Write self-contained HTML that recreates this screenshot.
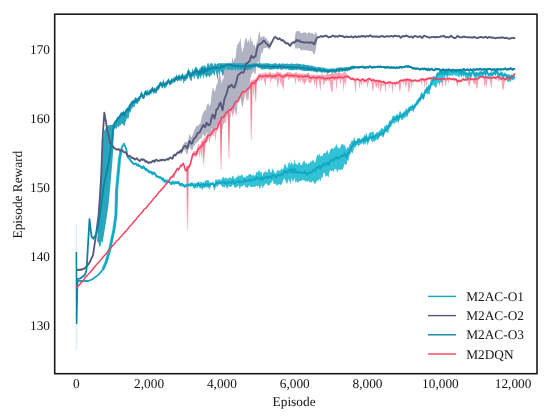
<!DOCTYPE html>
<html><head><meta charset="utf-8"><title>Episode Reward</title>
<style>html,body{margin:0;padding:0;background:#fff}svg{display:block}</style>
</head><body>
<svg width="550" height="416" viewBox="0 0 550 416">
<rect width="550" height="416" fill="#fff"/>
<g>
<polygon fill="#f9a3b3" points="160.5,190.1 161.5,188.8 162.5,187.6 163.5,186.7 164.5,185.3 165.5,183.6 166.5,182.2 167.5,181.3 168.5,179.8 169.5,178.6 170.5,176.5 171.5,175.5 172.5,175.3 173.5,173.4 174.5,171.7 175.5,170.6 176.5,168.2 177.5,167.3 178.5,168.4 179.5,166.7 180.5,164.3 181.5,164.3 182.5,162.4 183.5,161.9 184.5,165.6 185.5,168.8 186.5,168.4 187.5,166.7 188.5,164.0 189.5,164.5 190.5,160.6 191.5,156.1 192.5,152.4 193.5,151.1 194.5,151.2 195.5,151.0 196.5,150.9 197.5,147.3 198.5,143.1 199.5,145.2 200.5,143.9 201.5,139.9 202.5,140.7 203.5,138.6 204.5,137.8 205.5,137.0 206.5,135.4 207.5,131.5 208.5,130.1 209.5,131.8 210.5,129.8 211.5,129.7 212.5,127.7 213.5,124.6 214.5,123.8 215.5,123.2 216.5,123.0 217.5,121.3 218.5,118.2 219.5,112.1 220.5,114.7 221.5,111.7 222.5,107.0 223.5,111.6 224.5,108.6 225.5,108.2 226.5,104.8 227.5,105.9 228.5,102.9 229.5,103.5 230.5,104.4 231.5,104.0 232.5,102.6 233.5,100.6 234.5,99.6 235.5,97.9 236.5,96.9 237.5,98.0 238.5,96.4 239.5,93.7 240.5,91.8 241.5,90.4 242.5,87.7 243.5,88.9 244.5,88.8 245.5,88.1 246.5,87.3 247.5,83.8 248.5,84.7 249.5,85.1 250.5,80.9 251.5,80.6 252.5,80.0 253.5,79.6 254.5,79.6 255.5,78.6 256.5,77.8 257.5,76.2 258.5,74.4 259.5,73.5 260.5,73.0 261.5,74.5 262.5,73.4 263.5,72.9 264.5,73.6 265.5,71.2 266.5,73.5 267.5,73.4 268.5,73.6 269.5,71.0 270.5,72.6 271.5,74.0 272.5,73.6 273.5,73.4 274.5,73.7 275.5,73.0 276.5,72.3 277.5,71.0 278.5,72.4 279.5,72.2 280.5,72.5 281.5,73.8 282.5,74.4 283.5,74.3 284.5,73.2 285.5,73.6 286.5,72.6 287.5,71.8 288.5,72.3 289.5,72.6 290.5,72.0 291.5,72.9 292.5,73.6 293.5,73.5 294.5,72.7 295.5,72.7 296.5,71.8 297.5,73.9 298.5,73.4 299.5,73.2 300.5,73.7 301.5,74.3 302.5,73.0 303.5,74.5 304.5,74.1 305.5,74.2 306.5,73.7 307.5,72.7 308.5,72.8 309.5,73.9 310.5,75.9 311.5,74.3 312.5,75.1 313.5,74.2 314.5,75.3 315.5,75.2 316.5,74.2 317.5,75.3 318.5,74.5 319.5,75.2 320.5,75.2 321.5,74.4 322.5,73.5 323.5,75.4 324.5,75.2 325.5,75.0 326.5,74.2 327.5,72.2 328.5,74.7 329.5,73.9 330.5,73.9 331.5,72.7 332.5,72.5 333.5,73.5 334.5,74.3 335.5,72.7 336.5,72.0 337.5,73.2 338.5,72.2 339.5,72.2 340.5,73.1 341.5,73.8 342.5,73.4 343.5,72.2 344.5,72.2 345.5,71.7 346.5,73.7 347.5,75.0 348.5,75.2 349.5,76.5 350.5,77.1 351.5,77.7 352.5,77.3 353.5,77.6 354.5,78.3 355.5,78.8 356.5,78.0 357.5,77.6 358.5,78.5 359.5,79.0 360.5,79.2 361.5,78.8 362.5,77.9 363.5,78.1 364.5,79.3 365.5,79.7 366.5,79.0 367.5,78.2 368.5,78.1 369.5,77.0 370.5,78.1 371.5,79.2 372.5,78.6 373.5,78.3 374.5,79.2 375.5,80.0 376.5,79.5 377.5,79.4 378.5,79.8 379.5,79.8 380.5,80.0 381.5,80.7 382.5,80.9 383.5,80.3 384.5,81.2 385.5,82.5 386.5,81.7 387.5,81.5 388.5,81.3 389.5,81.2 390.5,80.9 391.5,81.9 392.5,82.0 393.5,82.0 394.5,81.9 395.5,81.9 396.5,80.7 397.5,81.8 398.5,81.5 399.5,80.0 400.5,79.2 401.5,79.2 402.5,79.2 403.5,79.1 404.5,78.3 405.5,78.2 406.5,78.9 407.5,77.3 408.5,78.7 409.5,78.6 410.5,78.5 411.5,79.7 412.5,79.8 413.5,79.6 414.5,79.1 415.5,78.9 416.5,79.7 417.5,79.5 418.5,79.5 419.5,79.2 420.5,78.3 421.5,78.0 422.5,78.1 423.5,77.7 424.5,78.7 425.5,78.1 426.5,78.1 427.5,77.5 428.5,77.3 429.5,76.8 430.5,77.2 431.5,76.7 432.5,76.8 433.5,77.0 434.5,77.8 435.5,77.2 436.5,77.2 437.5,77.8 438.5,77.8 439.5,78.0 440.5,78.1 441.5,77.7 442.5,77.5 443.5,77.9 444.5,77.8 445.5,77.8 446.5,77.6 447.5,77.1 448.5,77.7 449.5,77.0 450.5,77.6 451.5,77.9 452.5,77.9 453.5,77.5 454.5,78.7 455.5,77.7 456.5,78.1 457.5,80.6 458.5,79.5 459.5,79.2 460.5,79.8 461.5,79.4 462.5,78.3 463.5,77.6 464.5,78.5 465.5,78.3 466.5,78.1 467.5,78.5 468.5,77.3 469.5,76.8 470.5,78.0 471.5,77.5 472.5,78.1 473.5,77.9 474.5,78.0 475.5,78.7 476.5,77.3 477.5,77.6 478.5,77.5 479.5,76.0 480.5,74.5 481.5,75.0 482.5,75.5 483.5,75.5 484.5,76.2 485.5,76.0 486.5,75.8 487.5,75.9 488.5,76.7 489.5,77.0 490.5,76.8 491.5,75.8 492.5,76.3 493.5,75.8 494.5,76.6 495.5,77.0 496.5,76.0 497.5,75.7 498.5,75.7 499.5,76.0 500.5,76.5 501.5,77.7 502.5,76.9 503.5,76.3 504.5,77.6 505.5,78.5 506.5,76.9 507.5,76.5 508.5,76.0 509.5,77.8 510.5,77.5 511.5,75.7 512.5,74.9 513.5,74.3 514.5,72.6 514.5,78.3 513.5,76.8 512.5,77.3 511.5,78.1 510.5,80.1 509.5,80.3 508.5,78.8 507.5,78.9 506.5,79.9 505.5,80.9 504.5,83.0 503.5,89.8 502.5,90.1 501.5,80.5 500.5,79.3 499.5,80.6 498.5,81.7 497.5,78.2 496.5,80.1 495.5,79.4 494.5,78.9 493.5,78.7 492.5,79.0 491.5,89.1 490.5,83.7 489.5,79.4 488.5,79.2 487.5,78.8 486.5,88.9 485.5,82.5 484.5,88.1 483.5,78.2 482.5,78.1 481.5,78.2 480.5,77.7 479.5,78.5 478.5,79.9 477.5,87.6 476.5,88.9 475.5,83.0 474.5,84.8 473.5,83.2 472.5,80.4 471.5,80.5 470.5,82.0 469.5,87.4 468.5,84.3 467.5,80.9 466.5,80.9 465.5,81.1 464.5,81.1 463.5,80.4 462.5,80.9 461.5,82.1 460.5,82.5 459.5,82.0 458.5,82.2 457.5,87.0 456.5,83.2 455.5,80.5 454.5,81.1 453.5,80.1 452.5,80.5 451.5,80.7 450.5,80.1 449.5,79.6 448.5,84.1 447.5,80.0 446.5,81.6 445.5,87.6 444.5,80.3 443.5,80.7 442.5,88.6 441.5,83.1 440.5,80.7 439.5,86.6 438.5,80.5 437.5,82.5 436.5,80.2 435.5,80.4 434.5,85.4 433.5,79.4 432.5,79.2 431.5,79.6 430.5,81.1 429.5,79.7 428.5,79.7 427.5,80.0 426.5,86.6 425.5,80.7 424.5,88.3 423.5,81.0 422.5,80.4 421.5,85.8 420.5,81.2 419.5,81.7 418.5,82.0 417.5,82.2 416.5,82.0 415.5,81.7 414.5,81.6 413.5,82.1 412.5,82.5 411.5,89.3 410.5,81.2 409.5,91.3 408.5,92.3 407.5,80.6 406.5,84.9 405.5,87.8 404.5,81.4 403.5,84.8 402.5,81.6 401.5,81.9 400.5,89.7 399.5,91.7 398.5,83.9 397.5,84.2 396.5,84.2 395.5,87.2 394.5,84.4 393.5,84.5 392.5,94.0 391.5,84.3 390.5,83.6 389.5,88.3 388.5,84.0 387.5,84.0 386.5,84.4 385.5,93.2 384.5,83.7 383.5,86.8 382.5,83.4 381.5,88.8 380.5,93.2 379.5,82.5 378.5,90.6 377.5,84.2 376.5,88.2 375.5,85.2 374.5,81.9 373.5,89.2 372.5,91.5 371.5,81.9 370.5,80.8 369.5,79.8 368.5,83.4 367.5,88.1 366.5,83.1 365.5,82.3 364.5,82.0 363.5,84.1 362.5,80.4 361.5,86.2 360.5,81.8 359.5,89.6 358.5,80.9 357.5,80.3 356.5,81.0 355.5,93.5 354.5,83.4 353.5,80.3 352.5,79.9 351.5,80.5 350.5,80.0 349.5,79.1 348.5,78.5 347.5,78.0 346.5,78.4 345.5,86.7 344.5,80.9 343.5,91.9 342.5,79.8 341.5,79.7 340.5,85.0 339.5,79.3 338.5,79.2 337.5,80.0 336.5,91.3 335.5,79.6 334.5,80.5 333.5,80.1 332.5,91.7 331.5,92.3 330.5,86.7 329.5,80.9 328.5,80.8 327.5,80.4 326.5,80.9 325.5,81.1 324.5,83.2 323.5,86.0 322.5,79.6 321.5,80.0 320.5,90.9 319.5,85.4 318.5,79.4 317.5,79.9 316.5,91.0 315.5,80.7 314.5,85.9 313.5,79.3 312.5,79.7 311.5,81.8 310.5,83.1 309.5,83.2 308.5,81.9 307.5,78.2 306.5,81.3 305.5,82.8 304.5,84.4 303.5,83.2 302.5,81.3 301.5,79.0 300.5,82.6 299.5,80.0 298.5,82.6 297.5,78.6 296.5,78.0 295.5,85.1 294.5,78.0 293.5,78.6 292.5,78.2 291.5,77.6 290.5,78.2 289.5,78.3 288.5,80.4 287.5,77.0 286.5,77.2 285.5,78.3 284.5,78.2 283.5,90.6 282.5,87.3 281.5,84.0 280.5,82.9 279.5,77.6 278.5,83.5 277.5,88.2 276.5,77.8 275.5,81.1 274.5,78.7 273.5,78.5 272.5,79.0 271.5,78.9 270.5,83.5 269.5,77.7 268.5,78.5 267.5,78.7 266.5,78.2 265.5,87.1 264.5,82.4 263.5,78.7 262.5,78.8 261.5,80.9 260.5,78.5 259.5,81.5 258.5,79.5 257.5,81.2 256.5,83.4 255.5,84.3 254.5,85.5 253.5,97.7 252.5,85.3 251.5,85.7 250.5,88.1 249.5,90.3 248.5,90.7 247.5,100.1 246.5,100.7 245.5,93.8 244.5,94.4 243.5,94.5 242.5,98.5 241.5,101.1 240.5,98.2 239.5,99.8 238.5,102.4 237.5,103.9 236.5,115.0 235.5,114.7 234.5,106.4 233.5,108.9 232.5,118.1 231.5,111.5 230.5,112.8 229.5,112.5 228.5,124.0 227.5,114.8 226.5,117.2 225.5,123.4 224.5,122.2 223.5,125.2 222.5,119.9 221.5,127.7 220.5,128.0 219.5,124.7 218.5,126.7 217.5,130.9 216.5,131.6 215.5,142.1 214.5,132.1 213.5,136.6 212.5,134.7 211.5,136.4 210.5,137.4 209.5,144.1 208.5,138.3 207.5,141.4 206.5,142.5 205.5,144.9 204.5,156.6 203.5,145.9 202.5,147.9 201.5,159.3 200.5,150.3 199.5,157.8 198.5,151.2 197.5,155.2 196.5,156.7 195.5,156.9 194.5,156.1 193.5,156.3 192.5,157.7 191.5,161.5 190.5,165.5 189.5,168.6 188.5,168.8 187.5,170.4 186.5,172.1 185.5,172.1 184.5,168.6 183.5,165.1 182.5,165.8 181.5,167.2 180.5,167.0 179.5,169.3 178.5,170.9 177.5,169.9 176.5,170.9 175.5,173.6 174.5,174.3 173.5,175.7 172.5,177.9 171.5,178.1 170.5,178.8 169.5,180.7 168.5,182.2 167.5,183.2 166.5,184.2 165.5,185.4 164.5,186.8 163.5,188.3 162.5,189.2 161.5,190.1 160.5,191.2"/><defs><linearGradient id="sg" x1="0" y1="0" x2="0" y2="1"><stop offset="0" stop-color="#f6647e"/><stop offset="0.6" stop-color="#f88fa2"/><stop offset="1" stop-color="#fcd3da"/></linearGradient></defs><polygon fill="url(#sg)" points="172.9,174 175.1,174 174.6,178 173.4,178"/><polygon fill="url(#sg)" points="186.4,166 188.6,166 188.1,229 186.9,229"/><polygon fill="url(#sg)" points="202.5,142 204.7,142 204.2,165 203.0,165"/><polygon fill="url(#sg)" points="219.9,122 222.1,122 221.6,170 220.4,170"/><polygon fill="url(#sg)" points="227.8,112 230.0,112 229.5,159 228.3,159"/><polygon fill="url(#sg)" points="250.20000000000002,84 252.4,84 251.9,140 250.70000000000002,140"/><polygon fill="url(#sg)" points="254.5,80 256.7,80 256.2,102 255.0,102"/>
<polyline fill="none" stroke="#33c1d5" stroke-width="3.1" stroke-linejoin="round" points="102.9,269.5 106.5,261 109.9,248.5 113.9,229.5 115.9,215 116.60000000000001,190 118.5,170 119.5,159 121.4,149"/><polygon fill="#33c1d5" points="124.0,142.3 126.2,147.5 127.6,155.4 128.5,156.7 129.5,158.0 130.5,159.2 131.5,160.2 132.5,160.9 133.5,162.8 134.5,162.9 135.5,162.1 136.5,162.6 137.5,163.7 138.5,163.0 139.5,164.7 140.5,165.0 141.5,165.9 142.5,166.3 143.5,164.7 144.5,166.2 145.5,167.9 146.5,167.6 147.5,169.3 148.5,169.5 149.5,170.8 150.5,170.5 151.5,171.0 152.5,172.1 153.5,171.0 154.5,172.1 155.5,172.7 156.5,175.3 157.5,175.4 158.5,176.2 159.5,175.8 160.5,176.0 161.5,177.2 162.5,178.0 163.5,177.0 164.5,179.3 165.5,179.2 166.5,179.7 167.5,179.5 168.5,179.7 169.5,180.3 170.5,182.3 171.5,183.3 172.5,180.9 173.5,181.4 174.5,181.6 175.5,181.1 176.5,181.3 177.5,181.6 178.5,180.2 179.5,183.0 180.5,183.3 181.5,182.7 182.5,182.8 183.5,183.8 184.5,185.7 185.5,184.0 186.5,184.2 187.5,182.6 188.5,183.6 189.5,183.2 190.5,183.1 191.5,182.1 192.5,182.3 193.5,183.7 194.5,183.0 195.5,183.4 196.5,182.7 197.5,182.7 198.5,180.8 199.5,183.7 200.5,181.8 201.5,181.7 202.5,183.1 203.5,181.9 204.5,182.4 205.5,180.2 206.5,180.6 207.5,180.1 208.5,180.0 209.5,182.4 210.5,182.6 211.5,183.1 212.5,181.6 213.5,182.0 214.5,184.6 215.5,179.3 216.5,179.0 217.5,181.1 218.5,179.3 219.5,178.9 220.5,180.3 221.5,179.6 222.5,177.8 223.5,176.7 224.5,178.9 225.5,176.9 226.5,178.3 227.5,179.2 228.5,177.9 229.5,177.6 230.5,177.8 231.5,178.4 232.5,175.7 233.5,176.6 234.5,179.1 235.5,178.2 236.5,177.3 237.5,176.6 238.5,174.7 239.5,176.6 240.5,176.1 241.5,174.4 242.5,174.9 243.5,177.6 244.5,177.0 245.5,177.5 246.5,175.3 247.5,176.2 248.5,175.0 249.5,173.8 250.5,174.1 251.5,175.2 252.5,175.6 253.5,174.6 254.5,176.2 255.5,175.0 256.5,171.4 257.5,172.8 258.5,170.8 259.5,170.8 260.5,172.4 261.5,171.5 262.5,176.2 263.5,172.6 264.5,171.9 265.5,171.7 266.5,171.5 267.5,173.2 268.5,168.7 269.5,169.0 270.5,172.5 271.5,172.3 272.5,168.3 273.5,170.7 274.5,172.5 275.5,173.5 276.5,172.4 277.5,169.7 278.5,170.6 279.5,171.0 280.5,170.4 281.5,167.9 282.5,169.8 283.5,168.2 284.5,163.9 285.5,164.5 286.5,167.3 287.5,167.7 288.5,162.9 289.5,162.0 290.5,165.1 291.5,161.4 292.5,164.1 293.5,164.7 294.5,159.2 295.5,163.8 296.5,164.0 297.5,165.0 298.5,162.4 299.5,162.3 300.5,164.6 301.5,165.6 302.5,163.2 303.5,161.3 304.5,160.4 305.5,163.7 306.5,162.8 307.5,164.5 308.5,163.1 309.5,163.2 310.5,161.5 311.5,161.8 312.5,160.3 313.5,160.2 314.5,162.5 315.5,161.8 316.5,157.3 317.5,154.0 318.5,156.3 319.5,153.3 320.5,157.1 321.5,155.0 322.5,156.5 323.5,152.9 324.5,152.9 325.5,153.6 326.5,151.3 327.5,150.1 328.5,154.4 329.5,151.9 330.5,149.5 331.5,148.6 332.5,147.8 333.5,149.4 334.5,147.5 335.5,146.4 336.5,144.0 337.5,147.6 338.5,147.6 339.5,148.8 340.5,147.0 341.5,144.3 342.5,143.8 343.5,145.0 344.5,144.8 345.5,146.9 346.5,150.2 347.5,146.1 348.5,148.3 349.5,144.2 350.5,143.5 351.5,140.4 352.5,141.0 353.5,139.4 354.5,137.1 355.5,141.6 356.5,141.2 357.5,138.0 358.5,138.0 359.5,138.1 360.5,140.1 361.5,138.6 362.5,137.7 363.5,136.9 364.5,134.1 365.5,136.4 366.5,131.9 367.5,138.4 368.5,134.9 369.5,132.8 370.5,132.0 371.5,132.8 372.5,131.6 373.5,131.7 374.5,134.9 375.5,133.8 376.5,132.2 377.5,132.1 378.5,132.4 379.5,130.4 380.5,130.0 381.5,127.5 382.5,128.4 383.5,129.7 384.5,125.5 385.5,126.1 386.5,124.7 387.5,124.9 388.5,124.5 389.5,120.1 390.5,120.6 391.5,121.2 392.5,115.8 393.5,115.8 394.5,115.9 395.5,115.7 396.5,114.6 397.5,113.7 398.5,116.6 399.5,111.4 400.5,111.2 401.5,113.6 402.5,113.8 403.5,111.4 404.5,111.4 405.5,109.7 406.5,107.8 407.5,110.4 408.5,106.6 409.5,107.2 410.5,106.1 411.5,106.0 412.5,103.8 413.5,106.6 414.5,103.7 415.5,104.1 416.5,100.5 417.5,99.5 418.5,98.5 419.5,96.6 420.5,97.2 421.5,91.6 422.5,93.1 423.5,95.8 424.5,89.5 425.5,89.2 426.5,86.2 427.5,87.4 428.5,84.1 429.5,85.5 430.5,82.5 431.5,78.6 432.5,77.5 433.5,75.8 434.5,76.3 435.5,77.2 436.5,74.2 437.5,72.2 438.5,73.1 439.5,73.1 440.5,68.5 441.5,71.5 442.5,70.7 443.5,67.2 444.5,72.3 445.5,68.9 446.5,70.1 447.5,71.9 448.5,68.5 449.5,68.4 450.5,69.8 451.5,70.1 452.5,71.4 453.5,70.2 454.5,69.7 455.5,69.9 456.5,69.9 457.5,68.9 458.5,70.1 459.5,69.0 460.5,68.1 461.5,72.9 462.5,70.0 463.5,71.7 464.5,69.4 465.5,72.2 466.5,72.1 467.5,72.6 468.5,73.8 469.5,70.4 470.5,74.9 471.5,72.2 472.5,69.5 473.5,68.5 474.5,73.8 475.5,72.8 476.5,71.6 477.5,72.8 478.5,72.9 479.5,70.9 480.5,70.5 481.5,71.2 482.5,72.3 483.5,71.3 484.5,70.7 485.5,73.1 486.5,69.5 487.5,71.2 488.5,74.5 489.5,73.5 490.5,72.2 491.5,70.8 492.5,72.5 493.5,72.4 494.5,69.7 495.5,72.0 496.5,68.6 497.5,70.0 498.5,74.2 499.5,73.4 500.5,71.2 501.5,71.6 502.5,72.1 503.5,74.0 504.5,72.6 505.5,72.8 506.5,73.9 507.5,74.5 508.5,74.3 509.5,74.0 510.5,75.8 511.5,74.2 512.5,75.2 513.5,75.4 514.5,75.8 514.5,79.7 513.5,79.8 512.5,80.6 511.5,79.3 510.5,82.3 509.5,81.0 508.5,82.0 507.5,81.8 506.5,79.7 505.5,77.0 504.5,75.8 503.5,78.7 502.5,77.6 501.5,77.0 500.5,75.4 499.5,77.4 498.5,79.0 497.5,74.5 496.5,73.0 495.5,76.9 494.5,73.8 493.5,74.6 492.5,76.1 491.5,75.8 490.5,76.4 489.5,77.5 488.5,78.7 487.5,73.8 486.5,73.9 485.5,78.3 484.5,73.7 483.5,76.1 482.5,77.6 481.5,76.2 480.5,76.6 479.5,76.5 478.5,76.9 477.5,77.0 476.5,77.8 475.5,79.0 474.5,78.5 473.5,74.1 472.5,74.6 471.5,76.1 470.5,79.5 469.5,74.7 468.5,79.0 467.5,79.2 466.5,78.8 465.5,78.2 464.5,75.2 463.5,77.3 462.5,74.7 461.5,78.0 460.5,74.9 459.5,77.0 458.5,77.2 457.5,75.3 456.5,75.9 455.5,75.8 454.5,75.0 453.5,74.5 452.5,76.4 451.5,75.1 450.5,75.8 449.5,76.4 448.5,75.1 447.5,78.3 446.5,76.5 445.5,74.7 444.5,80.9 443.5,76.8 442.5,81.8 441.5,82.9 440.5,81.3 439.5,85.8 438.5,82.3 437.5,83.5 436.5,87.1 435.5,88.1 434.5,86.0 433.5,85.0 432.5,85.6 431.5,85.4 430.5,88.7 429.5,94.6 428.5,93.4 427.5,95.0 426.5,92.8 425.5,94.6 424.5,93.4 423.5,100.0 422.5,99.4 421.5,97.3 420.5,102.1 419.5,101.5 418.5,103.9 417.5,105.2 416.5,104.8 415.5,108.3 414.5,108.5 413.5,112.1 412.5,110.8 411.5,111.1 410.5,110.6 409.5,112.8 408.5,112.9 407.5,117.2 406.5,116.1 405.5,117.5 404.5,118.0 403.5,118.3 402.5,119.9 401.5,120.3 400.5,117.7 399.5,118.5 398.5,123.7 397.5,121.1 396.5,122.3 395.5,122.3 394.5,123.9 393.5,123.5 392.5,121.4 391.5,126.2 390.5,126.9 389.5,127.8 388.5,132.8 387.5,133.1 386.5,131.8 385.5,132.5 384.5,133.3 383.5,137.7 382.5,136.9 381.5,135.8 380.5,136.1 379.5,136.5 378.5,140.2 377.5,139.6 376.5,139.4 375.5,140.3 374.5,142.0 373.5,141.0 372.5,141.9 371.5,141.4 370.5,138.4 369.5,140.4 368.5,142.7 367.5,145.4 366.5,140.5 365.5,145.1 364.5,143.3 363.5,145.3 362.5,143.1 361.5,143.5 360.5,144.4 359.5,145.0 358.5,146.8 357.5,144.8 356.5,145.1 355.5,147.7 354.5,147.2 353.5,150.3 352.5,153.8 351.5,151.7 350.5,154.1 349.5,155.0 348.5,160.7 347.5,160.3 346.5,164.9 345.5,164.7 344.5,163.5 343.5,167.4 342.5,169.6 341.5,169.6 340.5,170.4 339.5,169.5 338.5,169.5 337.5,173.0 336.5,169.7 335.5,169.0 334.5,168.9 333.5,171.9 332.5,170.5 331.5,171.3 330.5,170.0 329.5,171.5 328.5,177.7 327.5,175.2 326.5,176.6 325.5,176.2 324.5,172.8 323.5,173.0 322.5,178.2 321.5,176.9 320.5,181.5 319.5,178.5 318.5,181.0 317.5,179.9 316.5,181.4 315.5,183.8 314.5,183.7 313.5,181.9 312.5,180.7 311.5,182.2 310.5,182.4 309.5,182.0 308.5,180.5 307.5,181.9 306.5,180.7 305.5,181.9 304.5,180.2 303.5,180.5 302.5,179.6 301.5,181.0 300.5,181.1 299.5,181.0 298.5,182.1 297.5,182.9 296.5,181.1 295.5,183.2 294.5,177.4 293.5,181.3 292.5,181.7 291.5,177.8 290.5,184.0 289.5,181.7 288.5,178.8 287.5,183.3 286.5,183.4 285.5,180.4 284.5,178.4 283.5,179.5 282.5,182.2 281.5,184.3 280.5,185.2 279.5,183.9 278.5,184.4 277.5,184.8 276.5,185.7 275.5,183.4 274.5,183.9 273.5,183.4 272.5,180.0 271.5,182.4 270.5,183.2 269.5,185.4 268.5,185.3 267.5,184.9 266.5,183.5 265.5,183.5 264.5,185.3 263.5,186.4 262.5,188.4 261.5,184.4 260.5,187.3 259.5,189.0 258.5,186.0 257.5,186.2 256.5,185.6 255.5,186.8 254.5,187.2 253.5,186.3 252.5,187.2 251.5,187.1 250.5,187.0 249.5,185.2 248.5,186.3 247.5,188.3 246.5,186.7 245.5,187.9 244.5,184.5 243.5,185.5 242.5,186.2 241.5,186.2 240.5,187.0 239.5,188.9 238.5,185.3 237.5,186.3 236.5,188.0 235.5,187.1 234.5,187.9 233.5,185.3 232.5,184.4 231.5,186.7 230.5,186.7 229.5,186.8 228.5,186.2 227.5,188.7 226.5,187.8 225.5,185.4 224.5,187.8 223.5,186.8 222.5,187.5 221.5,185.3 220.5,184.4 219.5,183.8 218.5,185.0 217.5,187.0 216.5,185.7 215.5,187.3 214.5,191.1 213.5,187.7 212.5,183.9 211.5,184.4 210.5,186.7 209.5,189.8 208.5,188.1 207.5,187.0 206.5,188.0 205.5,186.8 204.5,188.0 203.5,188.0 202.5,189.8 201.5,188.8 200.5,188.0 199.5,188.2 198.5,185.6 197.5,188.5 196.5,187.6 195.5,188.1 194.5,188.8 193.5,188.5 192.5,186.3 191.5,186.4 190.5,187.1 189.5,186.1 188.5,187.0 187.5,186.7 186.5,187.5 185.5,186.7 184.5,188.1 183.5,186.3 182.5,186.2 181.5,186.4 180.5,186.5 179.5,186.2 178.5,183.5 177.5,183.8 176.5,183.1 175.5,183.6 174.5,185.3 173.5,184.6 172.5,182.6 171.5,185.3 170.5,184.9 169.5,182.9 168.5,182.8 167.5,182.9 166.5,182.7 165.5,182.7 164.5,183.0 163.5,181.0 162.5,181.3 161.5,179.4 160.5,178.9 159.5,178.7 158.5,178.3 157.5,176.9 156.5,177.5 155.5,175.6 154.5,174.9 153.5,174.4 152.5,175.5 151.5,174.4 150.5,173.4 149.5,173.5 148.5,173.1 147.5,172.4 146.5,170.6 145.5,171.5 144.5,169.5 143.5,167.1 142.5,169.0 141.5,169.0 140.5,167.0 139.5,166.9 138.5,166.5 137.5,166.9 136.5,165.5 135.5,164.8 134.5,164.9 133.5,164.7 132.5,163.0 131.5,162.4 130.5,161.5 129.5,160.3 128.5,159.3 127.6,158.3 126.2,150.5 124.0,144.8"/>
<polygon fill="#b1b2c2" points="76.8,269.0 79.0,268.8 82.0,268.5 85.0,267.2 88.0,263.8 90.0,260.8 91.4,257.6 93.0,254.1 95.7,236.1 98.6,213.8 100.0,193.9 101.2,174.3 102.5,139.1 104.3,111.6 105.6,118.9 107.3,129.0 110.2,142.3 114.5,147.4 115.5,147.6 116.5,148.4 117.5,148.6 118.5,148.0 119.5,149.1 120.5,150.0 121.5,149.1 122.5,149.5 123.5,151.0 124.5,151.3 125.5,151.2 126.5,152.6 127.5,154.9 128.5,155.4 129.5,154.7 130.5,155.5 131.5,156.9 132.5,156.8 133.5,157.1 134.5,158.4 135.5,158.3 136.5,157.3 137.5,158.0 138.5,159.1 139.5,160.0 140.5,159.2 141.5,158.2 142.5,158.9 143.5,158.4 144.5,159.1 145.5,160.8 146.5,160.2 147.5,160.9 148.5,162.1 149.5,161.5 150.5,161.2 151.5,161.4 152.5,160.0 153.5,159.6 154.5,160.9 155.5,159.0 156.5,158.7 157.5,159.7 158.5,159.9 159.5,159.6 160.5,158.9 161.5,159.4 162.5,158.7 163.5,158.8 164.5,159.3 165.5,159.1 166.5,158.3 167.5,158.2 168.5,158.6 169.5,157.1 170.5,156.6 171.5,157.3 172.5,157.6 173.5,154.9 174.5,153.6 175.5,154.5 176.5,153.1 177.5,151.4 178.5,151.6 179.5,150.5 180.5,148.8 181.5,149.5 182.5,146.4 183.5,143.7 184.5,142.5 185.5,141.2 186.5,141.9 187.5,142.2 188.5,138.7 189.5,133.4 190.5,136.0 191.5,137.4 192.5,135.2 193.5,132.4 194.5,129.4 195.5,128.1 196.5,126.1 197.5,125.3 198.5,126.0 199.5,123.8 200.5,123.5 201.5,118.3 202.5,114.4 203.5,112.2 204.5,110.3 205.5,110.8 206.5,106.3 207.5,103.9 208.5,103.3 209.5,106.6 210.5,104.2 211.5,95.8 212.5,88.3 213.5,88.8 214.5,91.9 215.5,89.8 216.5,85.0 217.5,83.2 218.5,77.7 219.5,72.9 220.5,76.8 221.5,83.5 222.5,79.5 223.5,79.0 224.5,69.9 225.5,67.2 226.5,65.8 227.5,69.3 228.5,64.6 229.5,61.4 230.5,64.9 231.5,62.9 232.5,56.5 233.5,62.1 234.5,58.6 235.5,58.6 236.5,48.8 237.5,44.2 238.5,43.7 239.5,41.5 240.5,37.9 241.5,47.7 242.5,52.5 243.5,47.9 244.5,42.6 245.5,38.4 246.5,37.8 247.5,42.9 248.5,38.8 249.5,43.4 250.5,35.4 251.5,41.4 252.5,40.7 253.5,46.3 254.5,44.1 255.5,48.3 256.5,43.3 257.5,40.7 258.5,34.6 259.5,31.2 260.5,38.0 261.5,36.2 262.5,37.8 263.5,35.8 264.5,36.9 265.5,38.1 266.5,38.2 267.5,40.8 268.5,40.5 269.5,43.3 270.5,41.8 271.5,40.7 272.5,39.8 273.5,37.4 274.5,35.9 275.5,35.8 276.5,36.7 277.5,37.4 278.5,37.9 279.5,37.1 280.5,38.1 281.5,39.3 282.5,38.7 283.5,39.7 284.5,40.4 285.5,41.4 286.5,42.2 287.5,41.8 288.5,42.5 289.5,44.3 290.5,44.3 291.5,42.2 292.5,41.7 293.5,40.8 294.5,41.2 295.5,32.9 296.5,30.6 297.5,31.8 298.5,31.0 299.5,31.1 300.5,33.3 301.5,32.7 302.5,33.1 303.5,32.5 304.5,32.2 305.5,32.6 306.5,33.3 307.5,33.5 308.5,32.3 309.5,32.2 310.5,33.7 311.5,32.7 312.5,32.9 313.5,34.2 314.5,34.4 315.5,31.7 316.5,33.3 317.5,36.4 318.5,36.1 319.5,36.1 320.5,35.3 321.5,35.3 322.5,35.7 323.5,35.3 324.5,35.1 325.5,34.7 326.5,34.8 327.5,35.6 328.5,36.4 329.5,36.0 330.5,35.8 331.5,35.7 332.5,34.7 333.5,34.8 334.5,35.6 335.5,35.4 336.5,35.4 337.5,35.7 338.5,35.3 339.5,34.6 340.5,34.8 341.5,35.3 342.5,35.2 343.5,35.6 344.5,36.4 345.5,35.9 346.5,35.5 347.5,36.0 348.5,36.0 349.5,36.0 350.5,35.7 351.5,35.6 352.5,36.4 353.5,36.4 354.5,35.5 355.5,35.4 356.5,36.1 357.5,36.0 358.5,35.4 359.5,35.8 360.5,35.5 361.5,35.2 362.5,35.6 363.5,35.0 364.5,35.5 365.5,36.0 366.5,35.2 367.5,35.3 368.5,35.5 369.5,34.6 370.5,34.6 371.5,35.3 372.5,35.8 373.5,35.7 374.5,35.5 375.5,35.6 376.5,35.5 377.5,35.8 378.5,35.9 379.5,35.6 380.5,35.8 381.5,35.3 382.5,34.9 383.5,35.7 384.5,36.1 385.5,35.5 386.5,35.5 387.5,35.4 388.5,35.4 389.5,35.3 390.5,35.3 391.5,35.0 392.5,35.4 393.5,35.8 394.5,34.8 395.5,34.9 396.5,35.3 397.5,35.4 398.5,35.1 399.5,35.2 400.5,36.9 401.5,36.3 402.5,35.2 403.5,35.5 404.5,35.5 405.5,35.0 406.5,34.6 407.5,35.3 408.5,35.7 409.5,36.1 410.5,35.9 411.5,35.4 412.5,36.7 413.5,36.4 414.5,35.1 415.5,35.3 416.5,35.6 417.5,35.9 418.5,36.0 419.5,35.5 420.5,35.5 421.5,36.7 422.5,37.0 423.5,35.2 424.5,34.8 425.5,35.4 426.5,35.7 427.5,35.9 428.5,36.4 429.5,36.8 430.5,36.4 431.5,36.2 432.5,35.9 433.5,36.0 434.5,36.4 435.5,36.5 436.5,35.9 437.5,36.2 438.5,36.4 439.5,36.0 440.5,35.6 441.5,35.5 442.5,35.6 443.5,34.8 444.5,35.4 445.5,36.5 446.5,36.1 447.5,36.3 448.5,36.5 449.5,36.3 450.5,35.3 451.5,35.2 452.5,36.2 453.5,36.8 454.5,37.2 455.5,37.2 456.5,36.2 457.5,35.0 458.5,35.6 459.5,36.3 460.5,36.5 461.5,36.4 462.5,36.2 463.5,35.8 464.5,35.9 465.5,36.3 466.5,36.2 467.5,36.6 468.5,36.4 469.5,36.4 470.5,36.4 471.5,36.6 472.5,36.8 473.5,36.4 474.5,36.1 475.5,36.8 476.5,37.0 477.5,36.8 478.5,36.9 479.5,36.5 480.5,36.1 481.5,36.4 482.5,36.7 483.5,36.9 484.5,36.4 485.5,36.0 486.5,36.4 487.5,37.2 488.5,36.4 489.5,36.1 490.5,36.7 491.5,36.7 492.5,36.7 493.5,36.7 494.5,37.4 495.5,37.4 496.5,37.1 497.5,37.1 498.5,36.8 499.5,36.8 500.5,37.0 501.5,36.6 502.5,36.7 503.5,36.9 504.5,37.2 505.5,37.2 506.5,36.9 507.5,37.4 508.5,37.9 509.5,37.8 510.5,37.7 511.5,37.3 512.5,37.0 513.5,36.9 514.5,37.4 514.5,39.0 513.5,38.6 512.5,38.6 511.5,38.9 510.5,39.3 509.5,39.4 508.5,39.5 507.5,39.0 506.5,38.5 505.5,38.9 504.5,38.8 503.5,38.5 502.5,38.3 501.5,38.2 500.5,38.7 499.5,38.5 498.5,38.4 497.5,38.8 496.5,38.7 495.5,39.1 494.5,39.1 493.5,38.4 492.5,38.4 491.5,38.4 490.5,38.3 489.5,37.7 488.5,38.1 487.5,38.8 486.5,38.1 485.5,37.7 484.5,38.1 483.5,38.5 482.5,38.4 481.5,38.0 480.5,37.8 479.5,38.1 478.5,38.6 477.5,38.4 476.5,38.7 475.5,38.5 474.5,37.7 473.5,38.1 472.5,38.5 471.5,38.3 470.5,38.1 469.5,38.1 468.5,38.1 467.5,38.2 466.5,37.9 465.5,38.0 464.5,37.6 463.5,37.5 462.5,37.9 461.5,38.2 460.5,38.2 459.5,38.0 458.5,37.3 457.5,36.7 456.5,37.9 455.5,38.9 454.5,38.9 453.5,38.5 452.5,37.9 451.5,36.9 450.5,37.1 449.5,38.0 448.5,38.2 447.5,38.0 446.5,37.9 445.5,38.2 444.5,37.1 443.5,36.6 442.5,37.3 441.5,37.2 440.5,37.4 439.5,37.7 438.5,38.1 437.5,38.0 436.5,37.7 435.5,38.2 434.5,38.2 433.5,37.7 432.5,37.7 431.5,38.0 430.5,38.2 429.5,38.5 428.5,38.2 427.5,37.7 426.5,37.5 425.5,37.2 424.5,36.6 423.5,37.0 422.5,38.8 421.5,38.5 420.5,37.3 419.5,37.3 418.5,37.8 417.5,37.7 416.5,37.4 415.5,37.1 414.5,36.9 413.5,38.2 412.5,38.5 411.5,37.2 410.5,37.7 409.5,37.9 408.5,37.5 407.5,37.2 406.5,36.4 405.5,36.8 404.5,37.3 403.5,37.4 402.5,37.0 401.5,38.1 400.5,38.7 399.5,37.1 398.5,37.0 397.5,37.2 396.5,37.1 395.5,36.7 394.5,36.6 393.5,37.6 392.5,37.2 391.5,36.9 390.5,37.2 389.5,37.2 388.5,37.3 387.5,37.3 386.5,37.3 385.5,37.3 384.5,38.0 383.5,37.6 382.5,36.7 381.5,37.2 380.5,37.6 379.5,37.5 378.5,37.8 377.5,37.7 376.5,37.4 375.5,37.5 374.5,37.4 373.5,37.6 372.5,37.7 371.5,37.2 370.5,36.5 369.5,36.5 368.5,37.4 367.5,37.2 366.5,37.1 365.5,37.9 364.5,37.4 363.5,36.9 362.5,37.5 361.5,37.1 360.5,37.5 359.5,37.7 358.5,37.3 357.5,37.9 356.5,38.0 355.5,37.4 354.5,37.4 353.5,38.3 352.5,38.3 351.5,37.5 350.5,37.6 349.5,38.0 348.5,37.9 347.5,37.9 346.5,37.5 345.5,37.8 344.5,38.3 343.5,37.6 342.5,37.2 341.5,37.2 340.5,36.8 339.5,36.6 338.5,37.3 337.5,37.7 336.5,37.3 335.5,37.4 334.5,37.6 333.5,36.8 332.5,36.6 331.5,37.7 330.5,37.8 329.5,38.0 328.5,38.4 327.5,37.5 326.5,36.8 325.5,36.7 324.5,37.0 323.5,37.3 322.5,37.7 321.5,37.3 320.5,37.3 319.5,38.2 318.5,38.1 317.5,38.5 316.5,44.5 315.5,51.0 314.5,53.9 313.5,54.7 312.5,51.4 311.5,50.8 310.5,51.6 309.5,50.7 308.5,50.4 307.5,50.9 306.5,50.2 305.5,50.0 304.5,50.2 303.5,49.9 302.5,49.6 301.5,50.7 300.5,49.7 299.5,48.0 298.5,47.7 297.5,49.3 296.5,47.7 295.5,48.9 294.5,43.9 293.5,43.6 292.5,44.3 291.5,44.8 290.5,46.9 289.5,46.8 288.5,44.9 287.5,44.6 286.5,44.8 285.5,44.2 284.5,43.2 283.5,42.5 282.5,41.1 281.5,41.8 280.5,40.6 279.5,39.8 278.5,40.4 277.5,40.2 276.5,39.3 275.5,38.4 274.5,38.6 273.5,40.1 272.5,42.4 271.5,44.6 270.5,47.7 269.5,49.8 268.5,48.5 267.5,48.1 266.5,47.5 265.5,48.3 264.5,48.0 263.5,48.6 262.5,53.0 261.5,52.8 260.5,56.5 259.5,67.9 258.5,61.2 257.5,62.0 256.5,66.4 255.5,73.9 254.5,73.9 253.5,70.7 252.5,72.9 251.5,74.6 250.5,78.2 249.5,85.0 248.5,99.8 247.5,97.9 246.5,88.0 245.5,90.3 244.5,97.3 243.5,101.8 242.5,107.6 241.5,104.1 240.5,96.9 239.5,100.4 238.5,100.3 237.5,100.9 236.5,112.4 235.5,110.0 234.5,109.7 233.5,115.5 232.5,108.4 231.5,105.6 230.5,118.1 229.5,116.8 228.5,109.4 227.5,112.6 226.5,110.8 225.5,119.7 224.5,116.8 223.5,120.4 222.5,130.4 221.5,123.8 220.5,118.3 219.5,122.8 218.5,120.5 217.5,123.9 216.5,124.9 215.5,126.9 214.5,132.8 213.5,129.8 212.5,128.7 211.5,128.3 210.5,131.5 209.5,134.7 208.5,135.1 207.5,131.9 206.5,132.7 205.5,135.6 204.5,137.0 203.5,133.9 202.5,134.7 201.5,138.5 200.5,138.4 199.5,139.5 198.5,140.9 197.5,142.4 196.5,142.2 195.5,143.8 194.5,145.8 193.5,146.2 192.5,149.7 191.5,150.4 190.5,148.6 189.5,146.5 188.5,149.2 187.5,153.8 186.5,154.2 185.5,150.5 184.5,149.8 183.5,150.3 182.5,152.3 181.5,154.7 180.5,153.3 179.5,154.1 178.5,154.2 177.5,153.4 176.5,155.1 175.5,156.5 174.5,155.6 173.5,156.9 172.5,159.6 171.5,159.3 170.5,158.6 169.5,159.1 168.5,160.6 167.5,160.2 166.5,160.3 165.5,161.1 164.5,161.3 163.5,160.8 162.5,160.7 161.5,161.4 160.5,160.9 159.5,161.6 158.5,161.9 157.5,161.7 156.5,160.7 155.5,161.0 154.5,162.9 153.5,161.6 152.5,162.0 151.5,163.4 150.5,163.2 149.5,163.5 148.5,164.1 147.5,162.9 146.5,162.2 145.5,162.8 144.5,161.1 143.5,160.4 142.5,160.9 141.5,160.2 140.5,161.2 139.5,162.0 138.5,161.1 137.5,160.0 136.5,159.3 135.5,160.3 134.5,160.4 133.5,159.1 132.5,158.8 131.5,158.9 130.5,157.5 129.5,156.7 128.5,157.4 127.5,156.9 126.5,154.6 125.5,153.2 124.5,153.3 123.5,153.0 122.5,151.5 121.5,151.1 120.5,152.0 119.5,151.1 118.5,150.0 117.5,150.6 116.5,150.4 115.5,149.6 114.5,149.4 110.2,144.3 107.3,131.0 105.6,120.9 104.3,113.6 102.5,141.1 101.2,176.3 100.0,195.9 98.6,215.8 95.7,238.1 93.0,256.1 91.4,259.6 90.0,262.8 88.0,265.8 85.0,269.2 82.0,270.5 79.0,270.8 76.8,271.0"/>
<polygon fill="#27a6bd" points="99.8,247.5 98.6,243 97.1,241 98,228 99.4,205 100.6,180 101.8,160 103,140 104,131 107.6,125.5 112,124.8 114,124 116,127 113.9,129 113.2,150 112.5,160 110.8,180 108.5,205 106,222 103.6,236.6 102.5,243 101.3,241 100.6,246"/><polygon fill="#27a6bd" points="113.5,125.1 114.5,120.9 115.5,120.0 116.5,119.2 117.5,116.4 118.5,116.5 119.5,115.1 120.5,113.3 121.5,111.5 122.5,112.5 123.5,110.1 124.5,113.4 125.5,109.4 126.5,108.4 127.5,106.8 128.5,108.8 129.5,103.9 130.5,103.4 131.5,100.8 132.5,100.7 133.5,99.5 134.5,100.7 135.5,97.1 136.5,98.0 137.5,99.0 138.5,96.5 139.5,96.6 140.5,94.1 141.5,90.7 142.5,93.5 143.5,95.5 144.5,92.3 145.5,89.6 146.5,91.1 147.5,89.4 148.5,91.5 149.5,89.8 150.5,88.9 151.5,88.7 152.5,86.3 153.5,89.7 154.5,87.1 155.5,88.7 156.5,86.8 157.5,85.4 158.5,84.5 159.5,83.1 160.5,81.1 161.5,82.8 162.5,82.1 163.5,78.4 164.5,83.7 165.5,81.3 166.5,81.7 167.5,80.2 168.5,77.4 169.5,81.4 170.5,80.1 171.5,77.7 172.5,79.4 173.5,77.4 174.5,77.1 175.5,77.4 176.5,73.8 177.5,77.4 178.5,74.4 179.5,74.4 180.5,76.1 181.5,74.9 182.5,72.6 183.5,76.8 184.5,74.8 185.5,74.6 186.5,73.8 187.5,72.6 188.5,67.7 189.5,72.3 190.5,71.2 191.5,73.2 192.5,68.1 193.5,71.3 194.5,69.2 195.5,66.5 196.5,67.2 197.5,68.2 198.5,72.5 199.5,68.6 200.5,67.7 201.5,66.4 202.5,65.3 203.5,66.7 204.5,65.1 205.5,66.3 206.5,67.8 207.5,63.3 208.5,63.3 209.5,65.8 210.5,63.3 211.5,63.3 212.5,63.3 213.5,66.3 214.5,63.3 215.5,63.3 216.5,64.7 217.5,63.3 218.5,63.3 219.5,63.3 220.5,63.3 221.5,63.3 222.5,63.3 223.5,63.3 224.5,63.3 225.5,63.3 226.5,63.3 227.5,63.3 228.5,63.3 229.5,63.3 230.5,63.3 231.5,63.3 232.5,63.3 233.5,63.3 234.5,63.3 235.5,63.3 236.5,63.3 237.5,63.3 238.5,63.3 239.5,63.3 240.5,63.3 241.5,63.3 242.5,63.3 243.5,63.3 244.5,63.3 245.5,63.3 246.5,63.7 247.5,63.3 248.5,63.3 249.5,63.9 250.5,64.1 251.5,63.8 252.5,63.4 253.5,63.3 254.5,63.3 255.5,63.3 256.5,63.5 257.5,63.3 258.5,63.3 259.5,63.3 260.5,63.3 261.5,63.3 262.5,63.9 263.5,63.3 264.5,63.4 265.5,63.3 266.5,63.3 267.5,63.3 268.5,63.3 269.5,63.4 270.5,64.0 271.5,63.6 272.5,63.8 273.5,63.8 274.5,63.3 275.5,63.3 276.5,63.3 277.5,64.4 278.5,63.4 279.5,63.3 280.5,64.4 281.5,63.3 282.5,63.6 283.5,63.7 284.5,63.7 285.5,63.7 286.5,64.0 287.5,63.3 288.5,63.9 289.5,64.2 290.5,63.6 291.5,63.5 292.5,63.6 293.5,64.2 294.5,63.7 295.5,64.1 296.5,63.6 297.5,63.5 298.5,63.9 299.5,63.9 300.5,63.9 301.5,64.4 302.5,64.8 303.5,64.1 304.5,64.5 305.5,65.1 306.5,65.0 307.5,65.0 308.5,65.1 309.5,65.8 310.5,65.6 311.5,65.8 312.5,65.6 313.5,66.7 314.5,66.2 315.5,67.0 316.5,67.3 317.5,67.2 318.5,67.1 319.5,67.2 320.5,67.1 321.5,67.7 322.5,67.8 323.5,67.2 324.5,67.8 325.5,68.4 326.5,68.3 327.5,68.7 328.5,68.5 329.5,69.2 330.5,68.2 331.5,68.5 332.5,68.2 333.5,68.8 334.5,68.3 335.5,68.8 336.5,67.8 337.5,67.9 338.5,67.6 339.5,67.4 340.5,67.3 341.5,67.4 342.5,67.5 343.5,67.5 344.5,67.5 345.5,67.2 346.5,67.1 347.5,67.2 348.5,66.9 349.5,67.1 350.5,66.3 351.5,65.7 352.5,65.8 353.5,65.6 354.5,66.0 355.5,66.0 356.5,66.0 357.5,66.9 358.5,66.0 359.5,66.3 360.5,66.1 361.5,66.3 362.5,65.6 363.5,65.8 364.5,66.8 365.5,65.9 366.5,66.1 367.5,66.2 368.5,66.6 369.5,65.4 370.5,65.5 371.5,66.4 372.5,66.5 373.5,66.0 374.5,66.0 375.5,66.0 376.5,66.0 377.5,65.6 378.5,65.6 379.5,66.2 380.5,65.3 381.5,66.0 382.5,66.2 383.5,65.9 384.5,66.3 385.5,66.2 386.5,66.2 387.5,66.0 388.5,66.0 389.5,66.7 390.5,66.5 391.5,66.1 392.5,66.5 393.5,66.3 394.5,66.3 395.5,67.2 396.5,66.1 397.5,66.8 398.5,66.5 399.5,66.0 400.5,65.7 401.5,66.4 402.5,66.2 403.5,65.8 404.5,65.9 405.5,65.6 406.5,65.1 407.5,65.6 408.5,64.9 409.5,66.0 410.5,65.9 411.5,66.2 412.5,67.2 413.5,67.3 414.5,67.2 415.5,67.8 416.5,67.5 417.5,67.4 418.5,67.7 419.5,68.8 420.5,68.1 421.5,68.1 422.5,67.3 423.5,68.4 424.5,67.5 425.5,68.3 426.5,67.7 427.5,69.1 428.5,67.5 429.5,69.0 430.5,68.5 431.5,67.7 432.5,68.3 433.5,69.2 434.5,69.1 435.5,67.7 436.5,68.2 437.5,67.9 438.5,68.1 439.5,68.4 440.5,69.4 441.5,69.0 442.5,68.7 443.5,68.6 444.5,69.0 445.5,69.3 446.5,68.6 447.5,69.3 448.5,68.4 449.5,68.9 450.5,69.2 451.5,69.6 452.5,68.5 453.5,68.9 454.5,69.3 455.5,69.1 456.5,69.3 457.5,69.2 458.5,69.0 459.5,69.0 460.5,69.2 461.5,68.8 462.5,69.4 463.5,67.9 464.5,68.3 465.5,69.4 466.5,68.9 467.5,68.4 468.5,68.7 469.5,69.1 470.5,68.3 471.5,68.7 472.5,68.9 473.5,68.6 474.5,68.8 475.5,69.0 476.5,67.9 477.5,68.2 478.5,68.7 479.5,68.0 480.5,67.5 481.5,68.7 482.5,68.5 483.5,68.5 484.5,68.4 485.5,68.0 486.5,69.8 487.5,67.9 488.5,68.2 489.5,67.8 490.5,68.0 491.5,69.2 492.5,68.5 493.5,68.6 494.5,68.1 495.5,69.1 496.5,68.4 497.5,67.7 498.5,68.7 499.5,68.3 500.5,68.5 501.5,68.5 502.5,68.4 503.5,68.2 504.5,67.8 505.5,67.2 506.5,68.8 507.5,68.3 508.5,68.3 509.5,67.8 510.5,67.3 511.5,67.8 512.5,68.7 513.5,67.9 514.5,68.0 514.5,70.1 513.5,69.7 512.5,70.8 511.5,69.7 510.5,69.4 509.5,70.2 508.5,70.5 507.5,70.2 506.5,70.7 505.5,69.6 504.5,69.9 503.5,70.3 502.5,70.3 501.5,70.2 500.5,70.6 499.5,69.9 498.5,70.8 497.5,69.7 496.5,70.4 495.5,71.4 494.5,70.1 493.5,70.6 492.5,70.5 491.5,71.0 490.5,70.0 489.5,69.8 488.5,70.2 487.5,70.1 486.5,71.5 485.5,69.7 484.5,70.4 483.5,70.4 482.5,70.4 481.5,70.8 480.5,69.8 479.5,70.0 478.5,71.0 477.5,70.3 476.5,70.1 475.5,71.0 474.5,70.4 473.5,70.5 472.5,70.7 471.5,71.1 470.5,70.4 469.5,71.2 468.5,71.0 467.5,70.4 466.5,71.1 465.5,71.3 464.5,70.3 463.5,70.0 462.5,71.2 461.5,70.9 460.5,71.3 459.5,71.1 458.5,70.9 457.5,71.2 456.5,71.6 455.5,71.4 454.5,71.4 453.5,71.2 452.5,70.8 451.5,71.8 450.5,71.1 449.5,70.5 448.5,70.4 447.5,71.4 446.5,70.5 445.5,71.0 444.5,71.3 443.5,70.7 442.5,70.9 441.5,70.9 440.5,71.8 439.5,70.4 438.5,70.3 437.5,70.3 436.5,70.3 435.5,70.0 434.5,71.2 433.5,71.2 432.5,70.4 431.5,69.8 430.5,70.9 429.5,71.3 428.5,69.6 427.5,71.2 426.5,70.0 425.5,70.7 424.5,69.6 423.5,70.5 422.5,69.4 421.5,70.3 420.5,70.3 419.5,70.5 418.5,69.6 417.5,69.7 416.5,69.7 415.5,69.8 414.5,69.5 413.5,69.2 412.5,69.6 411.5,68.6 410.5,67.8 409.5,68.0 408.5,67.2 407.5,67.8 406.5,67.3 405.5,67.8 404.5,67.9 403.5,68.0 402.5,68.2 401.5,68.5 400.5,68.0 399.5,68.5 398.5,69.0 397.5,68.7 396.5,68.4 395.5,69.2 394.5,68.4 393.5,68.7 392.5,68.8 391.5,68.5 390.5,68.7 389.5,68.7 388.5,68.4 387.5,68.2 386.5,68.5 385.5,68.3 384.5,68.5 383.5,68.0 382.5,68.1 381.5,68.1 380.5,67.8 379.5,68.3 378.5,67.8 377.5,67.7 376.5,68.1 375.5,68.3 374.5,68.4 373.5,68.2 372.5,68.7 371.5,68.4 370.5,67.8 369.5,67.6 368.5,68.7 367.5,68.0 366.5,68.5 365.5,68.5 364.5,69.0 363.5,68.1 362.5,67.6 361.5,68.3 360.5,67.9 359.5,68.6 358.5,68.2 357.5,68.8 356.5,68.1 355.5,68.3 354.5,69.0 353.5,68.6 352.5,69.0 351.5,69.4 350.5,70.3 349.5,70.6 348.5,70.3 347.5,71.5 346.5,70.9 345.5,71.4 344.5,71.4 343.5,71.2 342.5,71.8 341.5,71.8 340.5,71.3 339.5,72.2 338.5,72.2 337.5,71.8 336.5,72.1 335.5,73.1 334.5,73.3 333.5,72.2 332.5,72.9 331.5,72.5 330.5,72.1 329.5,72.7 328.5,73.1 327.5,73.5 326.5,72.6 325.5,72.5 324.5,72.7 323.5,72.0 322.5,72.7 321.5,72.6 320.5,72.2 319.5,71.7 318.5,71.4 317.5,72.6 316.5,72.4 315.5,71.8 314.5,71.5 313.5,71.7 312.5,71.0 311.5,71.4 310.5,71.0 309.5,71.3 308.5,71.1 307.5,70.9 306.5,71.1 305.5,71.2 304.5,70.9 303.5,70.8 302.5,70.8 301.5,70.5 300.5,70.1 299.5,70.0 298.5,69.4 297.5,69.7 296.5,70.2 295.5,69.6 294.5,69.9 293.5,70.2 292.5,69.9 291.5,70.4 290.5,69.9 289.5,69.9 288.5,69.8 287.5,69.0 286.5,69.5 285.5,69.6 284.5,68.7 283.5,69.1 282.5,69.7 281.5,69.4 280.5,69.7 279.5,68.4 278.5,69.5 277.5,69.6 276.5,69.1 275.5,69.0 274.5,69.3 273.5,69.3 272.5,69.5 271.5,69.6 270.5,69.8 269.5,69.6 268.5,69.2 267.5,68.9 266.5,69.1 265.5,69.1 264.5,69.6 263.5,69.1 262.5,69.7 261.5,69.3 260.5,68.4 259.5,67.8 258.5,68.1 257.5,67.4 256.5,66.1 255.5,67.0 254.5,68.3 253.5,67.6 252.5,68.2 251.5,69.5 250.5,69.6 249.5,69.8 248.5,69.4 247.5,70.7 246.5,70.0 245.5,70.0 244.5,69.4 243.5,69.4 242.5,69.8 241.5,69.9 240.5,69.9 239.5,70.1 238.5,69.3 237.5,70.9 236.5,68.1 235.5,71.4 234.5,68.5 233.5,69.6 232.5,70.4 231.5,69.8 230.5,69.7 229.5,69.4 228.5,69.6 227.5,71.1 226.5,67.9 225.5,68.8 224.5,70.4 223.5,75.2 222.5,76.2 221.5,72.5 220.5,70.5 219.5,76.7 218.5,70.7 217.5,80.2 216.5,74.7 215.5,70.1 214.5,76.6 213.5,73.6 212.5,73.2 211.5,75.0 210.5,75.6 209.5,77.5 208.5,75.5 207.5,75.8 206.5,77.9 205.5,76.0 204.5,73.9 203.5,78.9 202.5,74.6 201.5,75.8 200.5,79.1 199.5,75.5 198.5,79.3 197.5,79.3 196.5,75.9 195.5,75.0 194.5,79.5 193.5,76.2 192.5,76.6 191.5,81.2 190.5,80.4 189.5,78.6 188.5,75.0 187.5,78.7 186.5,79.3 185.5,81.0 184.5,81.1 183.5,84.2 182.5,76.6 181.5,81.5 180.5,80.8 179.5,80.6 178.5,79.9 177.5,81.2 176.5,79.4 175.5,81.5 174.5,82.9 173.5,82.7 172.5,82.7 171.5,84.6 170.5,84.9 169.5,85.6 168.5,82.6 167.5,84.8 166.5,86.8 165.5,87.5 164.5,89.1 163.5,86.3 162.5,88.4 161.5,87.6 160.5,85.3 159.5,89.1 158.5,90.2 157.5,90.6 156.5,93.7 155.5,93.1 154.5,93.1 153.5,94.3 152.5,89.9 151.5,93.9 150.5,93.8 149.5,95.7 148.5,95.0 147.5,95.6 146.5,96.8 145.5,93.0 144.5,98.2 143.5,99.1 142.5,99.0 141.5,96.3 140.5,98.9 139.5,101.2 138.5,100.5 137.5,104.2 136.5,103.7 135.5,103.1 134.5,107.8 133.5,106.2 132.5,108.1 131.5,109.0 130.5,112.6 129.5,112.2 128.5,118.8 127.5,118.0 126.5,118.9 125.5,122.2 124.5,126.1 123.5,124.9 122.5,123.7 121.5,123.4 120.5,125.5 119.5,125.6 118.5,127.4 117.5,126.3 116.5,128.9 115.5,128.3 114.5,128.3 113.5,132.7"/>
<polyline fill="none" stroke="#12a7c3" stroke-width="1.8" stroke-linejoin="round" stroke-linecap="round" points="77.0,281.0 88.5,281.0 92.8,279.0 98.6,274.6 103.0,269.5 106.6,261.0 110.0,248.5 114.0,229.5 116.0,215.0 116.7,190.0 118.6,170.0 119.6,159.0 121.8,147.5 124.0,143.8 126.2,149.0 127.6,156.3 128.5,157.7 129.5,159.0 130.5,160.4 131.5,161.9 132.5,162.7 133.5,164.0 134.5,163.8 135.5,163.9 136.5,164.3 137.5,165.3 138.5,165.1 139.5,166.0 140.5,166.3 141.5,167.8 142.5,168.1 143.5,166.7 144.5,168.2 145.5,169.4 146.5,169.2 147.5,170.7 148.5,171.0 149.5,171.7 150.5,171.9 151.5,172.7 152.5,173.5 153.5,172.6 154.5,173.6 155.5,174.1 156.5,176.7 157.5,176.3 158.5,177.0 159.5,177.4 160.5,177.5 161.5,178.0 162.5,179.8 163.5,179.5 164.5,181.6 165.5,181.1 166.5,181.3 167.5,181.3 168.5,181.6 169.5,181.9 170.5,183.3 171.5,184.1 172.5,181.6 173.5,182.9 174.5,183.5 175.5,182.4 176.5,182.9 177.5,183.2 178.5,181.9 179.5,184.5 180.5,184.1 181.5,184.3 182.5,184.7 183.5,185.0 184.5,186.8 185.5,185.1 186.5,185.7 187.5,184.6 188.5,185.3 189.5,184.8 190.5,184.9 191.5,184.3 192.5,184.4 193.5,185.4 194.5,185.6 195.5,185.4 196.5,184.5 197.5,185.3 198.5,183.0 199.5,185.7 200.5,184.9 201.5,185.1 202.5,185.8 203.5,184.4 204.5,185.5 205.5,184.3 206.5,185.1 207.5,184.2 208.5,184.7 209.5,185.7 210.5,183.8 211.5,183.8 212.5,184.0 213.5,184.5 214.5,186.5 215.5,183.5 216.5,182.2 217.5,183.3 218.5,182.3 219.5,183.1 220.5,183.5 221.5,182.6 222.5,182.7 223.5,181.5 224.5,183.2 225.5,182.3 226.5,183.9 227.5,183.7 228.5,181.9 229.5,182.3 230.5,182.5 231.5,183.1 232.5,180.8 233.5,182.1 234.5,183.8 235.5,181.9 236.5,182.1 237.5,181.8 238.5,180.6 239.5,182.5 240.5,181.8 241.5,181.6 242.5,182.0 243.5,182.0 244.5,179.3 245.5,181.4 246.5,180.3 247.5,180.8 248.5,179.9 249.5,179.6 250.5,181.2 251.5,180.1 252.5,179.6 253.5,179.4 254.5,179.6 255.5,179.3 256.5,176.8 257.5,178.1 258.5,178.5 259.5,179.3 260.5,179.7 261.5,177.2 262.5,179.9 263.5,177.9 264.5,178.1 265.5,176.8 266.5,176.6 267.5,178.4 268.5,176.5 269.5,176.5 270.5,177.5 271.5,177.9 272.5,174.5 273.5,175.6 274.5,175.6 275.5,177.2 276.5,177.7 277.5,175.0 278.5,175.2 279.5,175.5 280.5,175.6 281.5,173.9 282.5,174.8 283.5,172.9 284.5,170.6 285.5,171.6 286.5,173.0 287.5,173.2 288.5,169.8 289.5,170.1 290.5,171.9 291.5,168.3 292.5,172.3 293.5,172.7 294.5,168.5 295.5,172.3 296.5,171.3 297.5,173.2 298.5,172.2 299.5,171.9 300.5,172.4 301.5,173.5 302.5,172.9 303.5,172.9 304.5,171.3 305.5,173.3 306.5,172.9 307.5,174.8 308.5,172.8 309.5,172.8 310.5,172.2 311.5,172.8 312.5,170.9 313.5,169.5 314.5,171.1 315.5,170.7 316.5,167.8 317.5,166.7 318.5,168.4 319.5,165.8 320.5,169.2 321.5,165.6 322.5,166.3 323.5,163.5 324.5,164.4 325.5,165.1 326.5,164.0 327.5,162.5 328.5,165.1 329.5,162.6 330.5,161.0 331.5,160.0 332.5,159.8 333.5,160.9 334.5,158.0 335.5,158.5 336.5,157.2 337.5,159.0 338.5,157.1 339.5,157.8 340.5,157.1 341.5,155.5 342.5,156.4 343.5,156.2 344.5,153.4 345.5,154.9 346.5,157.5 347.5,152.8 348.5,153.3 349.5,149.9 350.5,150.0 351.5,146.9 352.5,146.5 353.5,143.6 354.5,141.9 355.5,144.2 356.5,142.3 357.5,140.9 358.5,141.9 359.5,140.2 360.5,141.6 361.5,140.6 362.5,139.9 363.5,140.9 364.5,138.1 365.5,140.7 366.5,136.5 367.5,141.0 368.5,138.8 369.5,137.9 370.5,136.9 371.5,138.4 372.5,137.0 373.5,136.6 374.5,137.9 375.5,135.4 376.5,135.3 377.5,135.8 378.5,136.4 379.5,133.9 380.5,133.8 381.5,133.1 382.5,133.5 383.5,134.1 384.5,129.8 385.5,130.4 386.5,128.8 387.5,128.1 388.5,127.7 389.5,123.7 390.5,123.0 391.5,123.6 392.5,119.4 393.5,119.4 394.5,119.1 395.5,119.0 396.5,118.7 397.5,117.0 398.5,119.7 399.5,115.5 400.5,115.6 401.5,116.9 402.5,115.8 403.5,114.1 404.5,114.1 405.5,114.1 406.5,112.3 407.5,112.6 408.5,109.8 409.5,110.6 410.5,107.4 411.5,107.6 412.5,106.4 413.5,108.8 414.5,105.5 415.5,105.7 416.5,103.1 417.5,102.7 418.5,101.0 419.5,98.6 420.5,99.4 421.5,94.4 422.5,96.3 423.5,98.1 424.5,92.3 425.5,92.4 426.5,89.2 427.5,90.3 428.5,86.9 429.5,88.8 430.5,85.7 431.5,82.3 432.5,81.4 433.5,79.4 434.5,79.5 435.5,79.5 436.5,76.2 437.5,73.5 438.5,73.2 439.5,74.1 440.5,70.3 441.5,73.9 442.5,73.4 443.5,69.6 444.5,74.4 445.5,70.7 446.5,72.5 447.5,74.3 448.5,70.6 449.5,70.3 450.5,71.2 451.5,71.2 452.5,72.3 453.5,71.6 454.5,71.5 455.5,71.3 456.5,71.6 457.5,70.6 458.5,72.0 459.5,71.8 460.5,70.8 461.5,74.6 462.5,70.9 463.5,73.7 464.5,72.1 465.5,73.7 466.5,73.8 467.5,74.2 468.5,74.8 469.5,71.9 470.5,76.5 471.5,73.4 472.5,71.8 473.5,71.1 474.5,75.6 475.5,74.8 476.5,72.8 477.5,73.8 478.5,74.5 479.5,73.1 480.5,72.5 481.5,73.0 482.5,74.1 483.5,73.2 484.5,71.8 485.5,74.2 486.5,71.3 487.5,72.5 488.5,74.9 489.5,73.8 490.5,73.8 491.5,73.7 492.5,74.9 493.5,73.7 494.5,71.5 495.5,74.1 496.5,70.3 497.5,71.5 498.5,75.8 499.5,75.2 500.5,73.5 501.5,74.3 502.5,74.9 503.5,76.4 504.5,74.7 505.5,75.0 506.5,75.7 507.5,76.7 508.5,77.0 509.5,76.4 510.5,77.9 511.5,76.1 512.5,77.6 513.5,77.2 514.5,77.3"/>
<polyline fill="none" stroke="#56587a" stroke-width="1.8" stroke-linejoin="round" stroke-linecap="round" points="76.8,270.0 79.0,269.8 82.0,269.5 85.0,268.2 88.0,264.8 90.0,261.8 91.4,258.6 93.0,255.1 95.7,237.1 98.6,214.8 100.0,194.9 101.2,175.3 102.5,140.1 104.3,112.6 105.6,119.9 107.3,130.0 110.2,143.3 114.5,148.4 115.5,148.6 116.5,149.4 117.5,149.6 118.5,149.0 119.5,150.1 120.5,151.0 121.5,150.1 122.5,150.5 123.5,152.0 124.5,152.3 125.5,152.2 126.5,153.6 127.5,155.9 128.5,156.4 129.5,155.7 130.5,156.5 131.5,157.9 132.5,157.8 133.5,158.1 134.5,159.4 135.5,159.3 136.5,158.3 137.5,159.0 138.5,160.1 139.5,161.0 140.5,160.2 141.5,159.2 142.5,159.9 143.5,159.4 144.5,160.1 145.5,161.8 146.5,161.2 147.5,161.9 148.5,163.1 149.5,162.5 150.5,162.2 151.5,162.4 152.5,161.0 153.5,160.6 154.5,161.9 155.5,160.0 156.5,159.7 157.5,160.7 158.5,160.9 159.5,160.6 160.5,159.9 161.5,160.4 162.5,159.7 163.5,159.8 164.5,160.3 165.5,160.1 166.5,159.3 167.5,159.2 168.5,159.6 169.5,158.1 170.5,157.6 171.5,158.3 172.5,158.6 173.5,155.9 174.5,154.6 175.5,155.5 176.5,154.1 177.5,152.4 178.5,152.8 179.5,152.0 180.5,150.7 181.5,151.9 182.5,149.2 183.5,146.9 184.5,146.3 185.5,145.8 186.5,147.6 187.5,148.4 188.5,144.3 189.5,140.8 190.5,142.4 191.5,143.8 192.5,142.6 193.5,139.2 194.5,138.1 195.5,137.5 196.5,135.6 197.5,133.3 198.5,132.6 199.5,132.6 200.5,130.6 201.5,128.5 202.5,126.0 203.5,124.9 204.5,127.2 205.5,126.7 206.5,122.6 207.5,123.7 208.5,125.3 209.5,125.1 210.5,122.9 211.5,118.1 212.5,114.7 213.5,115.3 214.5,118.7 215.5,114.6 216.5,109.2 217.5,109.1 218.5,106.9 219.5,103.8 220.5,102.5 221.5,106.5 222.5,110.4 223.5,104.5 224.5,98.6 225.5,96.4 226.5,94.0 227.5,90.2 228.5,86.0 229.5,87.1 230.5,85.8 231.5,84.6 232.5,86.2 233.5,87.4 234.5,87.5 235.5,84.6 236.5,81.0 237.5,76.7 238.5,74.5 239.5,74.1 240.5,72.9 241.5,72.1 242.5,72.6 243.5,72.6 244.5,70.0 245.5,65.2 246.5,63.2 247.5,63.2 248.5,62.1 249.5,61.1 250.5,58.2 251.5,55.7 252.5,57.6 253.5,58.0 254.5,56.5 255.5,56.7 256.5,51.4 257.5,46.6 258.5,45.0 259.5,44.2 260.5,43.9 261.5,43.1 262.5,42.3 263.5,40.7 264.5,41.1 265.5,42.6 266.5,43.6 267.5,44.6 268.5,45.8 269.5,46.6 270.5,44.8 271.5,42.8 272.5,41.1 273.5,38.9 274.5,37.2 275.5,37.1 276.5,37.9 277.5,38.7 278.5,39.1 279.5,38.5 280.5,39.4 281.5,40.5 282.5,39.9 283.5,41.0 284.5,41.8 285.5,42.9 286.5,43.5 287.5,43.2 288.5,43.7 289.5,45.5 290.5,45.6 291.5,43.4 292.5,42.9 293.5,42.2 294.5,42.5 295.5,41.6 296.5,39.8 297.5,41.3 298.5,40.3 299.5,40.3 300.5,41.9 301.5,42.2 302.5,41.9 303.5,42.4 304.5,42.5 305.5,42.3 306.5,42.3 307.5,42.6 308.5,42.4 309.5,42.6 310.5,42.9 311.5,42.1 312.5,42.6 313.5,44.0 314.5,44.3 315.5,41.4 316.5,38.7 317.5,37.5 318.5,37.1 319.5,37.2 320.5,36.3 321.5,36.3 322.5,36.7 323.5,36.3 324.5,36.1 325.5,35.7 326.5,35.8 327.5,36.6 328.5,37.4 329.5,37.0 330.5,36.8 331.5,36.7 332.5,35.6 333.5,35.8 334.5,36.6 335.5,36.4 336.5,36.4 337.5,36.7 338.5,36.3 339.5,35.6 340.5,35.8 341.5,36.2 342.5,36.2 343.5,36.6 344.5,37.3 345.5,36.9 346.5,36.5 347.5,37.0 348.5,37.0 349.5,37.0 350.5,36.6 351.5,36.5 352.5,37.4 353.5,37.4 354.5,36.5 355.5,36.4 356.5,37.0 357.5,37.0 358.5,36.3 359.5,36.7 360.5,36.5 361.5,36.1 362.5,36.6 363.5,36.0 364.5,36.4 365.5,36.9 366.5,36.1 367.5,36.2 368.5,36.5 369.5,35.6 370.5,35.5 371.5,36.3 372.5,36.7 373.5,36.7 374.5,36.5 375.5,36.6 376.5,36.5 377.5,36.7 378.5,36.9 379.5,36.6 380.5,36.7 381.5,36.2 382.5,35.8 383.5,36.7 384.5,37.0 385.5,36.4 386.5,36.4 387.5,36.4 388.5,36.3 389.5,36.3 390.5,36.3 391.5,36.0 392.5,36.3 393.5,36.7 394.5,35.7 395.5,35.8 396.5,36.2 397.5,36.3 398.5,36.1 399.5,36.1 400.5,37.8 401.5,37.2 402.5,36.1 403.5,36.4 404.5,36.4 405.5,35.9 406.5,35.5 407.5,36.2 408.5,36.6 409.5,37.0 410.5,36.8 411.5,36.3 412.5,37.6 413.5,37.3 414.5,36.0 415.5,36.2 416.5,36.5 417.5,36.8 418.5,36.9 419.5,36.4 420.5,36.4 421.5,37.6 422.5,37.9 423.5,36.1 424.5,35.7 425.5,36.3 426.5,36.6 427.5,36.8 428.5,37.3 429.5,37.7 430.5,37.3 431.5,37.1 432.5,36.8 433.5,36.8 434.5,37.3 435.5,37.4 436.5,36.8 437.5,37.1 438.5,37.3 439.5,36.8 440.5,36.5 441.5,36.4 442.5,36.4 443.5,35.7 444.5,36.3 445.5,37.4 446.5,37.0 447.5,37.1 448.5,37.4 449.5,37.2 450.5,36.2 451.5,36.0 452.5,37.0 453.5,37.6 454.5,38.1 455.5,38.0 456.5,37.1 457.5,35.9 458.5,36.5 459.5,37.2 460.5,37.3 461.5,37.3 462.5,37.1 463.5,36.6 464.5,36.7 465.5,37.1 466.5,37.1 467.5,37.4 468.5,37.3 469.5,37.2 470.5,37.3 471.5,37.5 472.5,37.6 473.5,37.2 474.5,36.9 475.5,37.7 476.5,37.8 477.5,37.6 478.5,37.8 479.5,37.3 480.5,36.9 481.5,37.2 482.5,37.5 483.5,37.7 484.5,37.2 485.5,36.9 486.5,37.3 487.5,38.0 488.5,37.3 489.5,36.9 490.5,37.5 491.5,37.5 492.5,37.6 493.5,37.6 494.5,38.2 495.5,38.3 496.5,37.9 497.5,37.9 498.5,37.6 499.5,37.7 500.5,37.8 501.5,37.4 502.5,37.5 503.5,37.7 504.5,38.0 505.5,38.1 506.5,37.7 507.5,38.2 508.5,38.7 509.5,38.6 510.5,38.5 511.5,38.1 512.5,37.8 513.5,37.8 514.5,38.2"/>
<polyline fill="none" stroke="#0d84a4" stroke-width="1.6" points="76.4,252 76.6,324 77.6,279"/><line x1="76.4" x2="76.4" y1="224" y2="252" stroke="#d9eef4" stroke-width="1.6"/><line x1="76.6" x2="76.6" y1="324" y2="350" stroke="#dff1f6" stroke-width="1.6"/><polyline fill="none" stroke="#0d84a4" stroke-width="1.8" stroke-linejoin="round" stroke-linecap="round" points="77.6,279.0 80.5,278.3 84.8,275.0 86.3,271.0 87.0,264.0 87.4,255.0 88.6,235.0 89.5,219.2 90.5,228.0 91.6,236.6 93.3,238.8 96.0,234.5 98.2,226.8 101.2,205.0 103.3,188.4 106.0,175.0 108.7,162.0 112.0,141.5 113.5,127.0 114.5,123.0 115.5,122.2 116.5,121.4 117.5,118.6 118.5,118.5 119.5,117.2 120.5,115.5 121.5,113.8 122.5,114.7 123.5,112.6 124.5,115.6 125.5,111.6 126.5,110.5 127.5,109.2 128.5,110.8 129.5,105.7 130.5,105.3 131.5,103.1 132.5,102.6 133.5,102.0 134.5,102.8 135.5,98.9 136.5,100.2 137.5,101.7 138.5,98.3 139.5,98.1 140.5,96.6 141.5,93.7 142.5,96.4 143.5,97.5 144.5,94.6 145.5,92.0 146.5,94.1 147.5,93.2 148.5,93.7 149.5,93.0 150.5,90.9 151.5,91.4 152.5,88.0 153.5,91.4 154.5,89.7 155.5,90.4 156.5,89.8 157.5,87.4 158.5,87.0 159.5,85.4 160.5,83.2 161.5,85.3 162.5,85.3 163.5,83.2 164.5,85.2 165.5,84.0 166.5,84.0 167.5,81.9 168.5,80.2 169.5,83.2 170.5,82.6 171.5,81.2 172.5,80.4 173.5,80.2 174.5,80.0 175.5,79.2 176.5,76.8 177.5,80.3 178.5,76.8 179.5,78.0 180.5,77.7 181.5,78.2 182.5,75.2 183.5,78.7 184.5,77.6 185.5,77.3 186.5,77.6 187.5,74.3 188.5,70.7 189.5,75.1 190.5,76.1 191.5,75.4 192.5,72.7 193.5,72.9 194.5,73.2 195.5,70.0 196.5,71.3 197.5,71.1 198.5,74.0 199.5,70.6 200.5,73.4 201.5,71.1 202.5,68.7 203.5,73.1 204.5,69.2 205.5,70.7 206.5,71.4 207.5,69.1 208.5,68.4 209.5,69.9 210.5,68.9 211.5,67.8 212.5,67.6 213.5,67.9 214.5,68.5 215.5,67.4 216.5,67.8 217.5,68.3 218.5,67.8 219.5,67.8 220.5,67.4 221.5,65.6 222.5,67.1 223.5,66.4 224.5,65.9 225.5,65.1 226.5,64.6 227.5,64.6 228.5,65.0 229.5,64.6 230.5,64.9 231.5,65.1 232.5,65.8 233.5,65.5 234.5,65.7 235.5,66.5 236.5,65.9 237.5,66.4 238.5,65.8 239.5,66.3 240.5,66.3 241.5,66.3 242.5,66.1 243.5,65.9 244.5,66.1 245.5,66.1 246.5,66.6 247.5,66.6 248.5,65.9 249.5,66.5 250.5,66.0 251.5,66.2 252.5,65.7 253.5,65.2 254.5,65.8 255.5,65.4 256.5,65.0 257.5,65.0 258.5,65.7 259.5,65.7 260.5,66.1 261.5,66.4 262.5,66.7 263.5,66.2 264.5,66.7 265.5,66.7 266.5,66.2 267.5,65.8 268.5,66.6 269.5,66.6 270.5,67.1 271.5,66.9 272.5,66.7 273.5,67.0 274.5,66.2 275.5,66.6 276.5,66.4 277.5,67.1 278.5,66.7 279.5,65.6 280.5,67.1 281.5,66.4 282.5,67.0 283.5,66.6 284.5,66.9 285.5,67.1 286.5,67.0 287.5,66.6 288.5,67.4 289.5,67.2 290.5,67.1 291.5,67.4 292.5,67.0 293.5,67.8 294.5,67.3 295.5,67.4 296.5,67.5 297.5,67.1 298.5,67.1 299.5,67.6 300.5,67.7 301.5,68.1 302.5,68.0 303.5,67.6 304.5,68.2 305.5,68.5 306.5,68.7 307.5,68.6 308.5,68.2 309.5,69.1 310.5,68.6 311.5,69.1 312.5,68.5 313.5,69.5 314.5,69.1 315.5,69.8 316.5,70.2 317.5,70.1 318.5,69.4 319.5,69.6 320.5,69.8 321.5,70.4 322.5,70.4 323.5,70.4 324.5,70.6 325.5,70.7 326.5,70.9 327.5,71.3 328.5,70.8 329.5,71.0 330.5,70.4 331.5,70.7 332.5,70.9 333.5,70.5 334.5,70.8 335.5,70.9 336.5,70.2 337.5,69.9 338.5,69.7 339.5,69.8 340.5,69.4 341.5,69.7 342.5,69.5 343.5,69.5 344.5,69.5 345.5,69.1 346.5,69.1 347.5,69.6 348.5,68.6 349.5,68.8 350.5,68.3 351.5,67.8 352.5,67.6 353.5,67.3 354.5,67.5 355.5,67.1 356.5,67.1 357.5,67.7 358.5,67.0 359.5,67.5 360.5,67.0 361.5,67.2 362.5,66.6 363.5,66.9 364.5,68.1 365.5,67.3 366.5,67.4 367.5,67.1 368.5,67.4 369.5,66.5 370.5,66.7 371.5,67.3 372.5,67.5 373.5,67.0 374.5,67.1 375.5,67.1 376.5,67.2 377.5,66.8 378.5,66.7 379.5,67.3 380.5,66.6 381.5,67.0 382.5,67.2 383.5,67.0 384.5,67.6 385.5,67.3 386.5,67.5 387.5,67.0 388.5,67.2 389.5,67.7 390.5,67.7 391.5,67.3 392.5,67.7 393.5,67.6 394.5,67.6 395.5,68.2 396.5,67.3 397.5,67.7 398.5,67.7 399.5,67.4 400.5,66.9 401.5,67.6 402.5,67.3 403.5,67.0 404.5,66.9 405.5,66.7 406.5,66.2 407.5,66.7 408.5,66.0 409.5,67.1 410.5,66.7 411.5,67.5 412.5,68.3 413.5,68.2 414.5,68.4 415.5,68.9 416.5,68.6 417.5,68.6 418.5,68.6 419.5,69.5 420.5,69.2 421.5,69.2 422.5,68.5 423.5,69.4 424.5,68.5 425.5,69.4 426.5,68.7 427.5,70.2 428.5,68.6 429.5,69.9 430.5,69.8 431.5,68.7 432.5,69.4 433.5,70.2 434.5,70.1 435.5,68.8 436.5,69.4 437.5,69.1 438.5,69.2 439.5,69.4 440.5,70.6 441.5,69.9 442.5,69.7 443.5,69.7 444.5,70.2 445.5,70.2 446.5,69.5 447.5,70.5 448.5,69.4 449.5,69.7 450.5,70.1 451.5,70.6 452.5,69.7 453.5,70.0 454.5,70.5 455.5,70.2 456.5,70.4 457.5,70.3 458.5,70.0 459.5,70.1 460.5,70.2 461.5,69.8 462.5,70.5 463.5,68.9 464.5,69.3 465.5,70.4 466.5,69.9 467.5,69.4 468.5,69.9 469.5,70.2 470.5,69.4 471.5,70.0 472.5,69.6 473.5,69.5 474.5,69.5 475.5,70.1 476.5,69.0 477.5,69.4 478.5,69.8 479.5,68.9 480.5,68.8 481.5,69.7 482.5,69.5 483.5,69.4 484.5,69.5 485.5,69.0 486.5,70.7 487.5,69.0 488.5,69.2 489.5,68.8 490.5,69.2 491.5,70.1 492.5,69.4 493.5,69.6 494.5,69.1 495.5,70.2 496.5,69.4 497.5,68.8 498.5,69.7 499.5,69.1 500.5,69.6 501.5,69.3 502.5,69.4 503.5,69.3 504.5,68.9 505.5,68.6 506.5,69.7 507.5,69.2 508.5,69.4 509.5,69.0 510.5,68.3 511.5,68.6 512.5,69.8 513.5,68.8 514.5,69.0"/>
<polyline fill="none" stroke="#f4405f" stroke-width="1.45" stroke-linejoin="round" stroke-linecap="round" points="76.5,288.0 77.5,286.8 78.5,285.7 79.5,284.7 80.5,283.5 81.5,282.3 82.5,281.2 83.5,280.0 84.5,278.6 85.5,277.3 86.5,276.3 87.5,275.3 88.5,273.9 89.5,272.9 90.5,271.8 91.5,270.7 92.5,269.6 93.5,268.3 94.5,267.0 95.5,265.8 96.5,264.6 97.5,263.4 98.5,262.4 99.5,261.4 100.5,260.1 101.5,258.9 102.5,257.8 103.5,256.5 104.5,255.5 105.5,254.3 106.5,253.2 107.5,252.0 108.5,250.6 109.5,249.6 110.5,248.3 111.5,247.0 112.5,246.0 113.5,245.0 114.5,243.8 115.5,242.4 116.5,241.1 117.5,240.3 118.5,239.5 119.5,238.1 120.5,236.9 121.5,236.0 122.5,234.9 123.5,233.7 124.5,232.6 125.5,231.5 126.5,230.4 127.5,229.4 128.5,227.9 129.5,226.6 130.5,225.6 131.5,224.7 132.5,223.3 133.5,221.9 134.5,221.1 135.5,220.1 136.5,218.7 137.5,217.2 138.5,216.3 139.5,215.1 140.5,213.9 141.5,213.1 142.5,211.9 143.5,210.1 144.5,209.1 145.5,208.6 146.5,207.5 147.5,206.3 148.5,204.5 149.5,203.5 150.5,202.7 151.5,201.4 152.5,200.2 153.5,198.7 154.5,197.6 155.5,196.8 156.5,195.7 157.5,194.1 158.5,192.7 159.5,191.6 160.5,190.7 161.5,189.5 162.5,188.6 163.5,187.6 164.5,186.1 165.5,184.7 166.5,183.4 167.5,182.4 168.5,181.4 169.5,179.8 170.5,177.9 171.5,177.1 172.5,176.9 173.5,174.7 174.5,173.3 175.5,172.5 176.5,169.7 177.5,168.7 178.5,169.7 179.5,168.0 180.5,165.7 181.5,165.8 182.5,164.4 183.5,163.6 184.5,167.1 185.5,170.5 186.5,170.5 187.5,168.6 188.5,167.0 189.5,166.6 190.5,163.5 191.5,159.4 192.5,155.5 193.5,153.9 194.5,153.6 195.5,154.4 196.5,154.0 197.5,150.0 198.5,148.4 199.5,148.1 200.5,147.3 201.5,146.3 202.5,144.9 203.5,142.9 204.5,141.6 205.5,141.9 206.5,139.5 207.5,135.9 208.5,135.4 209.5,135.4 210.5,134.5 211.5,133.5 212.5,131.8 213.5,129.7 214.5,129.2 215.5,129.0 216.5,128.7 217.5,128.0 218.5,123.9 219.5,121.8 220.5,121.3 221.5,117.7 222.5,117.1 223.5,117.1 224.5,115.5 225.5,113.7 226.5,112.2 227.5,112.0 228.5,110.7 229.5,109.8 230.5,110.0 231.5,108.8 232.5,107.5 233.5,106.2 234.5,103.7 235.5,101.6 236.5,101.1 237.5,101.2 238.5,99.8 239.5,97.1 240.5,95.6 241.5,93.4 242.5,91.7 243.5,91.8 244.5,91.8 245.5,91.1 246.5,90.3 247.5,89.0 248.5,88.1 249.5,87.8 250.5,85.5 251.5,83.1 252.5,82.8 253.5,83.4 254.5,82.9 255.5,81.7 256.5,80.9 257.5,78.7 258.5,77.0 259.5,75.8 260.5,76.0 261.5,76.7 262.5,76.3 263.5,76.2 264.5,76.1 265.5,75.8 266.5,75.8 267.5,76.3 268.5,76.0 269.5,75.2 270.5,75.6 271.5,76.5 272.5,76.5 273.5,76.0 274.5,76.2 275.5,76.4 276.5,75.3 277.5,74.9 278.5,74.8 279.5,75.1 280.5,75.7 281.5,76.0 282.5,77.0 283.5,76.6 284.5,75.8 285.5,75.9 286.5,74.8 287.5,74.6 288.5,75.4 289.5,75.8 290.5,75.8 291.5,75.2 292.5,75.7 293.5,76.2 294.5,75.6 295.5,75.4 296.5,75.6 297.5,76.2 298.5,76.9 299.5,76.0 300.5,76.0 301.5,76.6 302.5,76.3 303.5,76.8 304.5,76.3 305.5,76.3 306.5,76.3 307.5,75.8 308.5,76.1 309.5,77.0 310.5,78.0 311.5,77.7 312.5,77.4 313.5,76.9 314.5,77.5 315.5,78.3 316.5,78.0 317.5,77.5 318.5,77.1 319.5,77.2 320.5,77.9 321.5,77.6 322.5,77.2 323.5,78.3 324.5,78.7 325.5,78.8 326.5,78.6 327.5,78.1 328.5,78.4 329.5,78.5 330.5,78.1 331.5,77.7 332.5,76.9 333.5,77.7 334.5,78.2 335.5,77.3 336.5,77.8 337.5,77.7 338.5,76.8 339.5,77.0 340.5,77.3 341.5,77.4 342.5,77.5 343.5,77.6 344.5,77.1 345.5,76.7 346.5,76.5 347.5,76.3 348.5,76.9 349.5,77.7 350.5,78.7 351.5,79.2 352.5,78.6 353.5,79.0 354.5,79.5 355.5,80.1 356.5,79.7 357.5,79.0 358.5,79.6 359.5,80.1 360.5,80.5 361.5,79.9 362.5,79.1 363.5,79.6 364.5,80.7 365.5,81.0 366.5,80.1 367.5,79.5 368.5,79.1 369.5,78.5 370.5,79.5 371.5,80.6 372.5,80.1 373.5,79.9 374.5,80.6 375.5,81.0 376.5,80.7 377.5,80.9 378.5,81.2 379.5,81.2 380.5,81.1 381.5,81.8 382.5,82.1 383.5,81.4 384.5,82.4 385.5,83.5 386.5,83.1 387.5,82.7 388.5,82.7 389.5,82.2 390.5,82.3 391.5,83.0 392.5,83.1 393.5,83.2 394.5,83.1 395.5,83.1 396.5,82.9 397.5,82.9 398.5,82.6 399.5,81.2 400.5,80.4 401.5,80.6 402.5,80.3 403.5,80.4 404.5,80.1 405.5,79.8 406.5,80.1 407.5,79.3 408.5,79.9 409.5,79.9 410.5,79.9 411.5,80.8 412.5,81.2 413.5,80.8 414.5,80.3 415.5,80.4 416.5,80.7 417.5,80.9 418.5,80.7 419.5,80.4 420.5,79.9 421.5,79.2 422.5,79.1 423.5,79.7 424.5,80.1 425.5,79.4 426.5,79.3 427.5,78.7 428.5,78.4 429.5,78.4 430.5,78.2 431.5,78.3 432.5,77.9 433.5,78.1 434.5,79.1 435.5,79.1 436.5,78.9 437.5,79.2 438.5,79.2 439.5,79.3 440.5,79.4 441.5,78.9 442.5,78.7 443.5,79.4 444.5,79.0 445.5,78.9 446.5,78.7 447.5,78.7 448.5,78.8 449.5,78.3 450.5,78.8 451.5,79.4 452.5,79.2 453.5,78.8 454.5,79.8 455.5,79.2 456.5,79.6 457.5,81.7 458.5,80.9 459.5,80.7 460.5,81.2 461.5,80.8 462.5,79.6 463.5,79.1 464.5,79.8 465.5,79.8 466.5,79.6 467.5,79.6 468.5,78.5 469.5,78.4 470.5,79.2 471.5,79.2 472.5,79.1 473.5,79.1 474.5,79.3 475.5,79.7 476.5,79.0 477.5,78.7 478.5,78.6 479.5,77.2 480.5,76.4 481.5,76.9 482.5,76.8 483.5,76.9 484.5,77.8 485.5,77.3 486.5,77.0 487.5,77.5 488.5,77.9 489.5,78.1 490.5,78.0 491.5,77.5 492.5,77.7 493.5,77.4 494.5,77.6 495.5,78.1 496.5,77.3 497.5,76.9 498.5,77.4 499.5,77.2 500.5,78.0 501.5,79.2 502.5,78.3 503.5,78.0 504.5,79.3 505.5,79.6 506.5,78.6 507.5,77.6 508.5,77.5 509.5,79.0 510.5,78.8 511.5,76.8 512.5,76.0 513.5,75.5 514.5,74.0"/>
</g>
<rect x="54.7" y="14.2" width="482.3" height="359.5" fill="none" stroke="#1a1a1a" stroke-width="1.6"/>
<g font-family="'Liberation Serif', serif" font-size="13.33px" fill="#141414" style="text-rendering:geometricPrecision">
<text x="50" y="329.6" text-anchor="end">130</text><text x="50" y="260.8" text-anchor="end">140</text><text x="50" y="191.8" text-anchor="end">150</text><text x="50" y="122.9" text-anchor="end">160</text><text x="50" y="54.0" text-anchor="end">170</text><text x="76.3" y="388.2" text-anchor="middle">0</text><text x="149.1" y="388.2" text-anchor="middle">2,000</text><text x="221.9" y="388.2" text-anchor="middle">4,000</text><text x="294.8" y="388.2" text-anchor="middle">6,000</text><text x="367.5" y="388.2" text-anchor="middle">8,000</text><text x="440.4" y="388.2" text-anchor="middle">10,000</text><text x="513.1" y="388.2" text-anchor="middle">12,000</text><text x="294.1" y="406" text-anchor="middle">Episode</text><text transform="translate(21.5,194.6) rotate(-90)" text-anchor="middle">Episode Reward</text>
<line x1="428" x2="456" y1="296.4" y2="296.4" stroke="#12a7c3" stroke-width="1.4"/><text x="466.2" y="300.9">M2AC-O1</text><line x1="428" x2="456" y1="315.6" y2="315.6" stroke="#56587a" stroke-width="1.4"/><text x="466.2" y="320.1">M2AC-O2</text><line x1="428" x2="456" y1="334.8" y2="334.8" stroke="#0d84a4" stroke-width="1.4"/><text x="466.2" y="339.3">M2AC-O3</text><line x1="428" x2="456" y1="354.0" y2="354.0" stroke="#f4405f" stroke-width="1.4"/><text x="466.2" y="358.5">M2DQN</text>
</g>
</svg>
</body></html>
